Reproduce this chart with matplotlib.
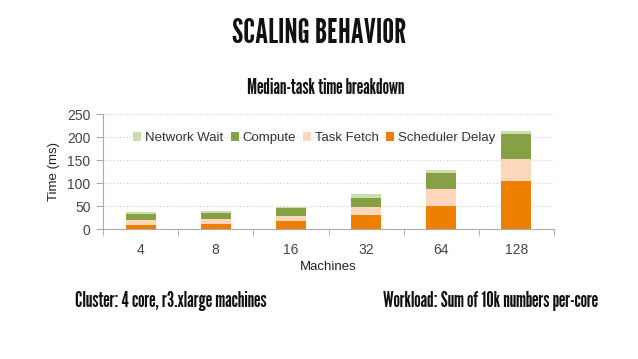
import matplotlib
matplotlib.use('Agg')
import matplotlib.pyplot as plt
import numpy as np

machines = ['4', '8', '16', '32', '64', '128']
scheduler_delay = [9, 11.5, 16.5, 29.5, 50.5, 105]
task_fetch = [11, 10.5, 11.5, 17.5, 37.5, 48]
compute = [12.5, 12, 17.5, 21.5, 34, 53]
network_wait = [4.5, 5, 1.5, 7.5, 6, 7]

c_sched = '#EE7F00'
c_fetch = '#FCD7BC'
c_comp = '#86A046'
c_net = '#C9DEAB'

cond = ['League Gothic', 'DejaVu Sans']
body = ['Liberation Sans', 'DejaVu Sans']

fig = plt.figure(figsize=(6.38, 3.59), dpi=100)
ax = fig.add_axes([0.1614, 0.362, 0.707, 0.32])

x = np.arange(len(machines))
w = 0.4
b1 = ax.bar(x, scheduler_delay, w, color=c_sched, label='Scheduler Delay')
bot = np.array(scheduler_delay)
b2 = ax.bar(x, task_fetch, w, bottom=bot, color=c_fetch, label='Task Fetch')
bot = bot + np.array(task_fetch)
b3 = ax.bar(x, compute, w, bottom=bot, color=c_comp, label='Compute')
bot = bot + np.array(compute)
b4 = ax.bar(x, network_wait, w, bottom=bot, color=c_net, label='Network Wait')

ax.set_xlim(-0.5, 5.5)
ax.set_ylim(0, 250)
ax.set_yticks([0, 50, 100, 150, 200, 250])
ax.set_xticks(x)
ax.set_xticklabels(machines)
ax.set_xticks(np.arange(-0.5, 6, 1), minor=True)
ax.tick_params(axis='x', which='major', length=0, pad=10, labelsize=10, labelcolor='#444444')
ax.tick_params(axis='x', which='minor', length=5, color='#aaaaaa', direction='out')
ax.tick_params(axis='y', length=5, color='#aaaaaa', labelsize=10, labelcolor='#444444', pad=4)
for lab in ax.get_xticklabels() + ax.get_yticklabels():
    lab.set_family(body)
ax.yaxis.grid(True, linestyle=(0, (1, 2)), color='#cccccc', linewidth=0.8)
ax.set_axisbelow(True)
for s in ['top', 'right']:
    ax.spines[s].set_visible(False)
ax.spines['left'].set_color('#aaaaaa')
ax.spines['bottom'].set_color('#aaaaaa')

ax.set_xlabel('Machines', fontsize=9.5, family=body, color='#222222', labelpad=3)
ax.set_ylabel('Time (ms)', fontsize=9.5, family=body, color='#222222', labelpad=5)

leg = ax.legend(handles=[b4, b3, b2, b1], ncol=4, loc='center', bbox_to_anchor=(0.468, 0.79),
                frameon=False, prop={'family': body, 'size': 9.5}, handlelength=0.6,
                handleheight=0.6, handletextpad=0.25, columnspacing=0.6)
for t in leg.get_texts():
    t.set_color('#333333')

fig.text(0.5, 0.908, 'SCALING BEHAVIOR', ha='center', va='center', fontsize=24,
         family=cond, color='#111111')
fig.text(0.511, 0.755, 'Median-task time breakdown', ha='center', va='center', fontsize=15,
         family=cond, color='#111111')
fig.text(0.117, 0.162, 'Cluster: 4 core, r3.xlarge machines', ha='left', va='center',
         fontsize=15, family=cond, color='#111111')
fig.text(0.937, 0.162, 'Workload: Sum of 10k numbers per-core', ha='right', va='center',
         fontsize=15, family=cond, color='#111111')

fig.savefig('out.png', dpi=100)
